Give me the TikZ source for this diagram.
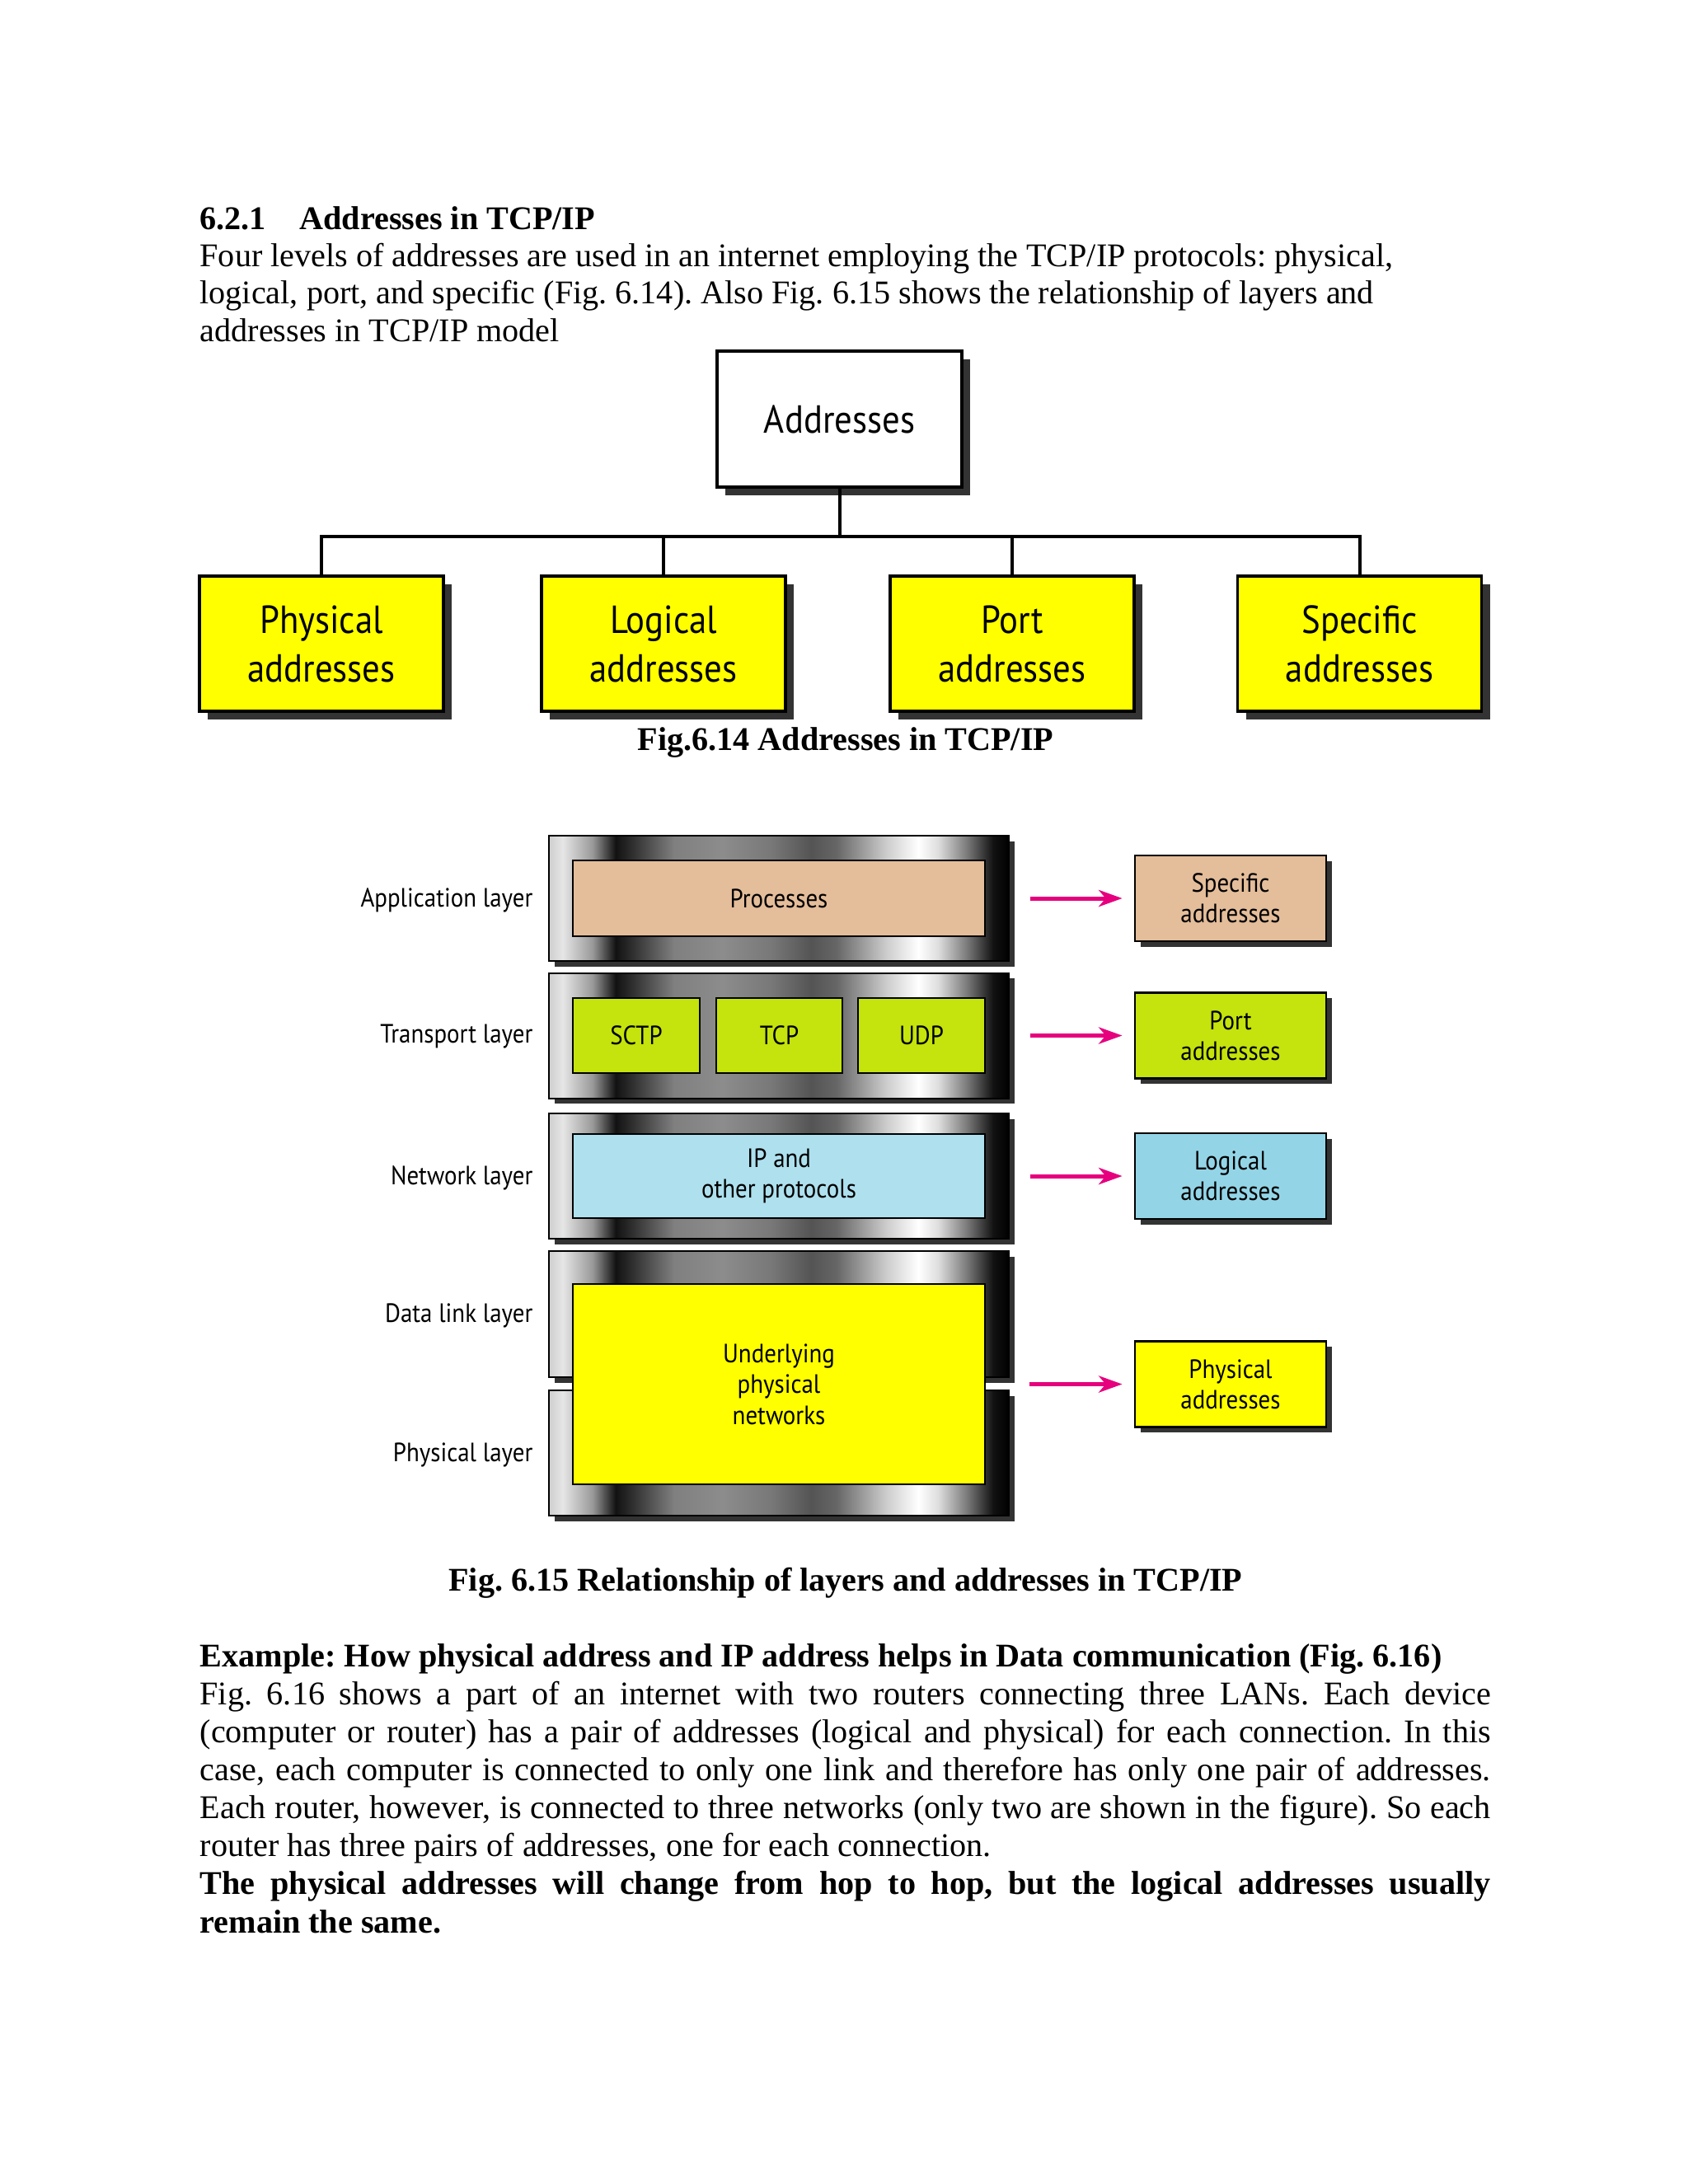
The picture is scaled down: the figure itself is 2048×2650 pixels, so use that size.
\documentclass[tikz,border=0pt]{standalone}
\usepackage{fontspec}
\setmainfont{Liberation Serif}
\newfontfamily\figfont[FakeStretch=0.9]{PT Sans}
\usetikzlibrary{arrows.meta,shadows}
\frenchspacing

\definecolor{boxyellow}{RGB}{255,255,0}
\definecolor{procbrown}{HTML}{E4BD9A}
\definecolor{transgreen}{HTML}{C5E30C}
\definecolor{netblue}{HTML}{AEE0EE}
\definecolor{logblue}{HTML}{93D5E7}
\definecolor{arrowpink}{HTML}{E6007E}
\definecolor{shadowgray}{HTML}{333333}

% grey bands behind the layers
\pgfdeclarehorizontalshading{bandshade}{100bp}{color(0bp)=(black!19); color(25bp)=(black!19);
  color(26.5bp)=(black!10); color(29.75bp)=(black!40); color(32.25bp)=(black!93);
  color(34.3bp)=(black!80); color(38.6bp)=(black!50); color(43.9bp)=(black!45);
  color(49.2bp)=(black!53); color(53.5bp)=(black!67); color(56.25bp)=(black!60);
  color(61.65bp)=(black!20); color(65.15bp)=(white); color(67.3bp)=(black!13);
  color(70.5bp)=(black!53); color(73.3bp)=(black!93); color(75bp)=(black); color(100bp)=(black)}

\newcommand{\justline}[1]{\makebox[468pt][s]{#1}}

\tikzset{
  boxwh/.style 2 args={minimum width=#1*0.29883pt, minimum height=#2*0.29883pt},
  bodyline/.style={anchor=base west, inner sep=0pt, font=\fontsize{12}{13.8}\selectfont},
  boldline/.style={anchor=base west, inner sep=0pt, font=\fontsize{12}{13.8}\selectfont\bfseries},
  treebox/.style={draw=black, line width=1pt, align=center, inner sep=0pt,
    font=\figfont\fontsize{14.2}{17.6}\selectfont,
    drop shadow={shadow xshift=3pt, shadow yshift=-3pt, fill=shadowgray, opacity=1}},
  treeline/.style={line width=1.2pt},
  band/.style={draw=black, line width=0.6pt, shade, shading=bandshade, inner sep=0pt,
    drop shadow={shadow xshift=2pt, shadow yshift=-2pt, fill=shadowgray, opacity=1}},
  inbox/.style={draw=black, line width=0.5pt, align=center, inner sep=0pt,
    font=\figfont\fontsize{9.6}{11.2}\selectfont},
  addrbox/.style={draw=black, line width=0.8pt, align=center, inner sep=0pt,
    font=\figfont\fontsize{9.6}{11}\selectfont,
    drop shadow={shadow xshift=2pt, shadow yshift=-2pt, fill=shadowgray, opacity=1}},
  laylabel/.style={anchor=east, inner sep=0pt, font=\figfont\fontsize{9.6}{11.2}\selectfont},
  addrarrow/.style={draw=arrowpink, line width=1.5pt,
    -{Stealth[length=8.5pt, width=6pt, inset=2.5pt]}}
}

\begin{document}
\begin{tikzpicture}[x=0.29883pt, y=-0.29883pt]
\fill[white] (0,0) rectangle (2048,2650);
\useasboundingbox (0,0) rectangle (2048,2650);

% text above the figures
\node[boldline] (head) at (242,278) {\makebox[0.5in][l]{6.2.1}Addresses in TCP/IP};
\node[bodyline] (intro1) at (242,323) {Four levels of addresses are used in an internet employing the TCP/IP protocols: physical,};
\node[bodyline] (intro2) at (242,368.5) {logical, port, and specific (Fig. 6.14). Also Fig. 6.15 shows the relationship of layers and};
\node[bodyline] (intro3) at (242,414) {addresses in TCP/IP model};

% Fig. 6.14
\node[treebox, fill=white, boxwh={297}{165}] (addr) at (1018.5,508.5) {Addresses};
\node[treebox, fill=boxyellow, boxwh={296}{164}] (phys) at (390,781) {Physical\\addresses};
\node[treebox, fill=boxyellow, boxwh={296}{164}] (logi) at (805,781) {Logical\\addresses};
\node[treebox, fill=boxyellow, boxwh={296}{164}] (port) at (1228,781) {Port\\addresses};
\node[treebox, fill=boxyellow, boxwh={296}{164}] (spec) at (1649.5,781) {Specific\\addresses};
\path (addr.south) ++(0,58) coordinate (bus);
\draw[treeline] (addr.south) -- (bus);
\draw[treeline] (phys.north) -- (phys.north |- bus) -- (spec.north |- bus) -- (spec.north);
\draw[treeline] (logi.north) -- (logi.north |- bus);
\draw[treeline] (port.north) -- (port.north |- bus);
\node[boldline, anchor=base] (cap14) at (1026,910) {Fig.6.14 Addresses in TCP/IP};

% Fig. 6.15
\node[band, boxwh={558}{152}] (applay) at (945,1090) {};
\node[band, boxwh={558}{152}] (tralay) at (945,1256.5) {};
\node[band, boxwh={558}{152}] (netlay) at (945,1427) {};
\node[band, boxwh={558}{153}] (dlklay) at (945,1594.5) {};
\node[band, boxwh={558}{152}] (phylay) at (945,1763) {};

\node[inbox, fill=procbrown, boxwh={500}{92}] (proc) at (945,1090) {Processes};
\node[inbox, fill=transgreen, boxwh={154}{91}] (sctp) at (772,1256.5) {SCTP};
\node[inbox, fill=transgreen, boxwh={153}{91}] (tcp) at (945.5,1256.5) {TCP};
\node[inbox, fill=transgreen, boxwh={154}{91}] (udp) at (1118,1256.5) {UDP};
\node[inbox, fill=netblue, boxwh={500}{102}] (ipnet) at (945,1427) {IP and\\other protocols};
\node[inbox, fill=boxyellow, boxwh={500}{243}] (under) at (945,1679.5) {Underlying\\physical\\networks};

\node[laylabel] (applab) at (647,1092) {Application layer};
\node[laylabel] (tralab) at (647,1258) {Transport layer};
\node[laylabel] (netlab) at (647,1429) {Network layer};
\node[laylabel] (dlklab) at (647,1596) {Data link layer};
\node[laylabel] (phylab) at (647,1765) {Physical layer};

\node[addrbox, fill=procbrown, boxwh={232}{104}] (specad) at (1493,1090) {Specific\\addresses};
\node[addrbox, fill=transgreen, boxwh={232}{104}] (portad) at (1493,1256.5) {Port\\addresses};
\node[addrbox, fill=logblue, boxwh={232}{104}] (logiad) at (1493,1427) {Logical\\addresses};
\node[addrbox, fill=boxyellow, boxwh={232}{104}] (physad) at (1493,1679.5) {Physical\\addresses};

\draw[addrarrow, shorten <=7.5pt, shorten >=4.2pt] (applay.east) -- (specad.west);
\draw[addrarrow, shorten <=7.5pt, shorten >=4.2pt] (tralay.east) -- (portad.west);
\draw[addrarrow, shorten <=7.5pt, shorten >=4.2pt] (netlay.east) -- (logiad.west);
\draw[addrarrow, shorten <=15.8pt, shorten >=4.2pt] (under.east) -- (physad.west);
\node[boldline, anchor=base] (cap15) at (1026,1930) {Fig. 6.15 Relationship of layers and addresses in TCP/IP};

% text below the figures
\node[boldline] (exhead) at (242,2022) {Example: How physical address and IP address helps in Data communication (Fig. 6.16)};
\node[bodyline] (ex1) at (242,2068) {\justline{Fig. 6.16 shows a part of an internet with two routers connecting three LANs. Each device}};
\node[bodyline] (ex2) at (242,2114) {\justline{(computer or router) has a pair of addresses (logical and physical) for each connection. In this}};
\node[bodyline] (ex3) at (242,2160) {\justline{case, each computer is connected to only one link and therefore has only one pair of addresses.}};
\node[bodyline] (ex4) at (242,2206) {\justline{Each router, however, is connected to three networks (only two are shown in the figure). So each}};
\node[bodyline] (ex5) at (242,2252) {router has three pairs of addresses, one for each connection.};
\node[boldline] (note1) at (242,2298) {\justline{The physical addresses will change from hop to hop, but the logical addresses usually}};
\node[boldline] (note2) at (242,2345) {remain the same.};
\end{tikzpicture}
\end{document}
